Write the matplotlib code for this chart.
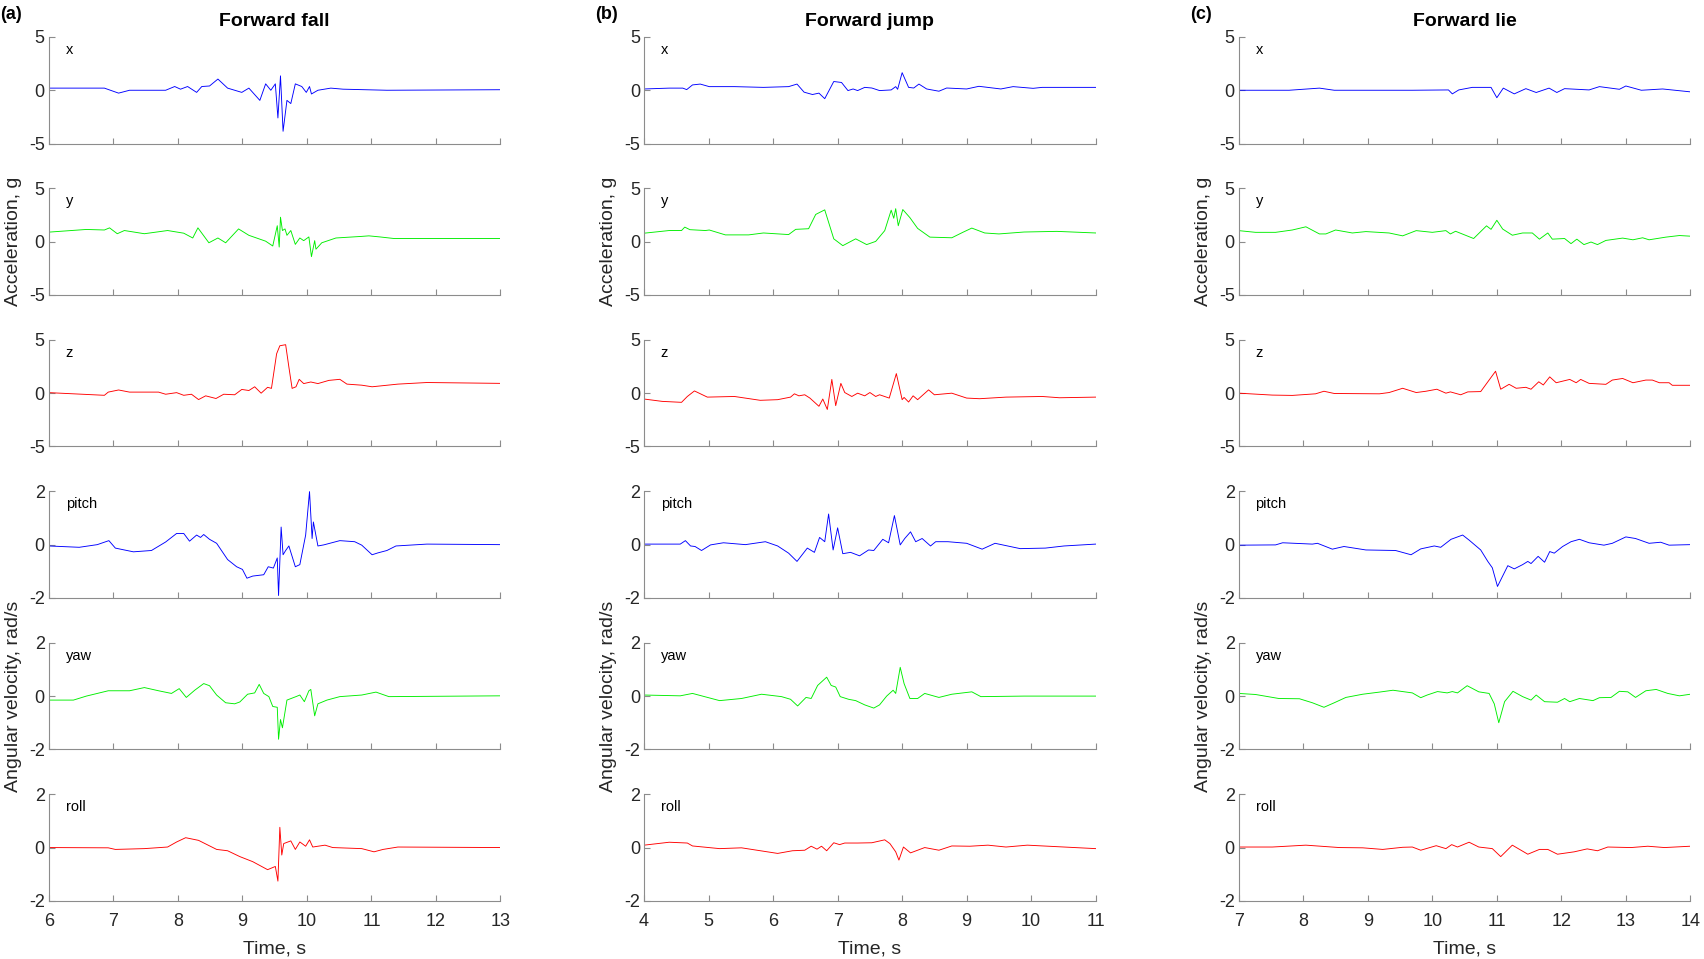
import matplotlib
matplotlib.use("Agg")
import matplotlib.pyplot as plt

plt.rcParams["font.family"] = ["Liberation Sans", "DejaVu Sans"]
plt.rcParams["axes.unicode_minus"] = False

# ---- (a) Forward fall ----
FALL_X_T = [6.0, 6.86, 7.08, 7.25, 7.81, 7.95, 8.04, 8.15, 8.29, 8.37, 8.49, 8.62, 8.77, 8.99, 9.1, 9.27, 9.36, 9.44, 9.51, 9.55, 9.59, 9.63, 9.69, 9.75, 9.82, 9.92, 9.99, 10.04, 10.07, 10.17, 10.37, 10.56, 11.24, 13.0]
FALL_X_V = [0.2, 0.2, -0.27, 0.0, 0.0, 0.35, 0.1, 0.35, -0.2, 0.35, 0.4, 1.05, 0.2, -0.2, 0.2, -0.95, 0.6, 0.0, 0.6, -2.6, 1.35, -3.85, -0.95, -1.25, 0.6, 0.35, -0.2, 0.35, -0.35, 0.0, 0.2, 0.1, 0.0, 0.05]
FALL_Y_T = [6.0, 6.58, 6.86, 6.94, 7.06, 7.17, 7.48, 7.84, 8.09, 8.23, 8.31, 8.48, 8.62, 8.74, 8.94, 9.1, 9.36, 9.47, 9.54, 9.57, 9.59, 9.62, 9.66, 9.69, 9.75, 9.82, 9.89, 9.95, 10.03, 10.07, 10.12, 10.14, 10.23, 10.45, 10.85, 10.96, 11.13, 11.35, 13.0]
FALL_Y_V = [0.9, 1.15, 1.1, 1.3, 0.75, 1.05, 0.75, 1.05, 0.8, 0.35, 1.3, -0.1, 0.35, -0.1, 1.2, 0.6, 0.05, -0.4, 1.5, -0.5, 2.3, 1.05, 1.2, 0.6, 1.05, -0.25, 0.35, 0.1, 0.45, -1.4, 0.1, -0.7, -0.1, 0.35, 0.5, 0.55, 0.45, 0.3, 0.3]
FALL_Z_T = [6.0, 6.86, 6.92, 7.08, 7.25, 7.7, 7.81, 7.98, 8.09, 8.21, 8.32, 8.43, 8.59, 8.71, 8.88, 8.99, 9.1, 9.19, 9.29, 9.39, 9.45, 9.53, 9.58, 9.67, 9.72, 9.77, 9.83, 9.88, 9.95, 10.06, 10.17, 10.34, 10.51, 10.62, 10.85, 11.01, 11.41, 11.86, 13.0]
FALL_Z_V = [0.05, -0.2, 0.1, 0.3, 0.1, 0.1, -0.1, 0.05, -0.2, -0.1, -0.6, -0.25, -0.5, -0.1, -0.15, 0.35, 0.25, 0.6, 0.0, 0.55, 0.45, 3.7, 4.45, 4.55, 2.45, 0.45, 0.6, 1.3, 0.9, 1.05, 0.9, 1.2, 1.3, 0.85, 0.75, 0.6, 0.85, 1.0, 0.92]
FALL_PITCH_T = [6.0, 6.47, 6.75, 6.93, 7.03, 7.31, 7.59, 7.81, 7.98, 8.09, 8.18, 8.29, 8.35, 8.4, 8.49, 8.6, 8.77, 8.91, 9.0, 9.07, 9.16, 9.33, 9.4, 9.48, 9.54, 9.56, 9.6, 9.63, 9.67, 9.72, 9.82, 9.89, 9.98, 10.04, 10.08, 10.1, 10.17, 10.26, 10.51, 10.74, 10.85, 11.01, 11.1, 11.24, 11.38, 11.86, 13.0]
FALL_PITCH_V = [-0.05, -0.1, 0.0, 0.15, -0.13, -0.27, -0.22, 0.1, 0.42, 0.42, 0.13, 0.36, 0.27, 0.38, 0.2, 0.05, -0.56, -0.83, -0.93, -1.26, -1.18, -1.13, -0.83, -0.88, -0.5, -1.91, 0.66, -0.38, -0.22, -0.05, -0.83, -0.75, 0.36, 1.99, 0.23, 0.85, -0.05, -0.01, 0.15, 0.11, -0.02, -0.38, -0.31, -0.22, -0.05, 0.02, 0.0]
FALL_YAW_T = [6.0, 6.38, 6.58, 6.92, 7.25, 7.48, 7.7, 7.9, 8.02, 8.13, 8.26, 8.4, 8.49, 8.6, 8.74, 8.88, 8.96, 9.08, 9.19, 9.26, 9.33, 9.41, 9.47, 9.54, 9.56, 9.59, 9.62, 9.69, 9.83, 9.89, 9.96, 10.03, 10.06, 10.12, 10.17, 10.31, 10.51, 10.85, 11.07, 11.27, 13.0]
FALL_YAW_V = [-0.15, -0.15, 0.0, 0.2, 0.2, 0.32, 0.2, 0.1, 0.28, -0.05, 0.22, 0.47, 0.39, 0.04, -0.25, -0.29, -0.22, 0.07, 0.12, 0.44, 0.1, -0.02, -0.39, -0.42, -1.62, -0.88, -1.19, -0.15, -0.02, 0.04, -0.21, 0.2, 0.25, -0.74, -0.29, -0.15, -0.02, 0.04, 0.15, -0.02, 0.01]
FALL_ROLL_T = [6.0, 6.92, 7.03, 7.48, 7.84, 7.98, 8.12, 8.32, 8.6, 8.77, 8.96, 9.16, 9.39, 9.51, 9.55, 9.58, 9.61, 9.64, 9.75, 9.82, 9.89, 9.98, 10.04, 10.09, 10.28, 10.4, 10.85, 11.04, 11.18, 11.41, 13.0]
FALL_ROLL_V = [0.0, -0.01, -0.07, -0.04, 0.02, 0.21, 0.37, 0.27, -0.07, -0.12, -0.34, -0.53, -0.83, -0.71, -1.26, 0.76, -0.28, 0.15, 0.25, -0.07, 0.21, 0.05, 0.29, 0.02, 0.09, 0.0, -0.04, -0.16, -0.07, 0.02, 0.0]

# ---- (b) Forward jump ----
JUMP_X_T = [4.0, 4.39, 4.6, 4.66, 4.75, 4.87, 5.01, 5.4, 5.85, 6.24, 6.37, 6.48, 6.61, 6.71, 6.8, 6.94, 7.06, 7.16, 7.24, 7.31, 7.42, 7.53, 7.65, 7.83, 7.9, 7.93, 8.0, 8.1, 8.18, 8.26, 8.38, 8.57, 8.69, 9.0, 9.19, 9.53, 9.72, 10.03, 10.17, 11.0]
JUMP_X_V = [0.12, 0.2, 0.2, 0.06, 0.5, 0.58, 0.34, 0.34, 0.27, 0.34, 0.58, -0.18, -0.4, -0.27, -0.79, 0.82, 0.73, -0.03, 0.12, -0.03, 0.27, 0.21, -0.03, 0.03, 0.34, 0.09, 1.65, 0.27, 0.21, 0.58, 0.12, -0.09, 0.21, 0.12, 0.37, 0.12, 0.34, 0.18, 0.27, 0.27]
JUMP_Y_T = [4.0, 4.39, 4.58, 4.63, 4.71, 4.95, 5.01, 5.26, 5.62, 5.85, 6.24, 6.35, 6.55, 6.66, 6.8, 6.94, 7.08, 7.28, 7.45, 7.59, 7.73, 7.83, 7.87, 7.9, 7.94, 8.01, 8.12, 8.24, 8.43, 8.77, 8.94, 9.08, 9.28, 9.5, 9.89, 10.4, 11.0]
JUMP_Y_V = [0.8, 1.05, 1.05, 1.37, 1.13, 1.05, 1.1, 0.64, 0.64, 0.82, 0.67, 1.16, 1.22, 2.56, 2.99, 0.27, -0.37, 0.27, -0.27, 0.03, 1.04, 2.96, 2.2, 3.1, 1.5, 3.02, 2.26, 1.25, 0.43, 0.37, 0.88, 1.28, 0.82, 0.73, 0.91, 0.97, 0.82]
JUMP_Z_T = [4.0, 4.28, 4.58, 4.67, 4.78, 4.98, 5.4, 5.8, 6.07, 6.27, 6.33, 6.4, 6.49, 6.57, 6.71, 6.77, 6.84, 6.91, 6.97, 7.05, 7.11, 7.22, 7.31, 7.42, 7.5, 7.59, 7.65, 7.8, 7.91, 8.0, 8.03, 8.1, 8.17, 8.24, 8.41, 8.5, 8.77, 9.0, 9.2, 9.61, 10.17, 10.44, 11.0]
JUMP_Z_V = [-0.55, -0.77, -0.86, -0.31, 0.21, -0.37, -0.31, -0.67, -0.61, -0.37, -0.06, -0.25, -0.15, -0.46, -1.23, -0.55, -1.53, 1.29, -1.17, 0.92, 0.06, -0.31, 0.0, -0.25, 0.06, -0.31, -0.15, -0.46, 1.84, -0.61, -0.4, -0.83, -0.25, -0.61, 0.31, -0.15, 0.0, -0.46, -0.52, -0.37, -0.31, -0.43, -0.37]
JUMP_PITCH_T = [4.0, 4.56, 4.64, 4.72, 4.79, 4.89, 5.03, 5.23, 5.57, 5.88, 6.07, 6.24, 6.37, 6.53, 6.64, 6.72, 6.8, 6.86, 6.93, 7.0, 7.08, 7.2, 7.34, 7.48, 7.56, 7.7, 7.79, 7.88, 7.97, 8.04, 8.13, 8.21, 8.31, 8.44, 8.52, 8.71, 9.0, 9.24, 9.44, 9.83, 10.22, 10.51, 11.0]
JUMP_PITCH_V = [0.02, 0.02, 0.15, -0.05, -0.07, -0.22, -0.01, 0.07, 0.0, 0.11, -0.05, -0.32, -0.63, -0.13, -0.29, 0.27, 0.11, 1.15, -0.2, 0.63, -0.34, -0.29, -0.42, -0.2, -0.22, 0.2, 0.07, 1.09, -0.01, 0.23, 0.48, 0.11, 0.23, -0.05, 0.11, 0.11, 0.05, -0.17, 0.05, -0.15, -0.13, -0.05, 0.02]
JUMP_YAW_T = [4.0, 4.56, 4.75, 5.17, 5.51, 5.82, 6.13, 6.27, 6.38, 6.51, 6.59, 6.69, 6.83, 6.9, 6.97, 7.04, 7.17, 7.28, 7.42, 7.56, 7.65, 7.76, 7.86, 7.9, 7.97, 8.03, 8.12, 8.24, 8.35, 8.57, 8.77, 9.08, 9.22, 9.89, 11.0]
JUMP_YAW_V = [0.04, 0.01, 0.1, -0.17, -0.09, 0.07, -0.02, -0.12, -0.37, -0.05, -0.09, 0.4, 0.71, 0.4, 0.34, -0.02, -0.12, -0.17, -0.33, -0.45, -0.33, 0.0, 0.22, 0.1, 1.08, 0.47, -0.09, -0.09, 0.1, -0.05, 0.07, 0.16, -0.02, 0.0, 0.0]
JUMP_ROLL_T = [4.0, 4.39, 4.67, 4.75, 5.17, 5.51, 6.07, 6.3, 6.49, 6.59, 6.68, 6.75, 6.83, 6.94, 7.03, 7.11, 7.31, 7.53, 7.73, 7.81, 7.9, 7.95, 8.02, 8.13, 8.35, 8.57, 8.77, 9.05, 9.33, 9.61, 9.94, 11.0]
JUMP_ROLL_V = [0.09, 0.2, 0.17, 0.06, -0.04, -0.01, -0.22, -0.12, -0.1, 0.05, -0.06, 0.05, -0.12, 0.18, 0.11, 0.17, 0.17, 0.18, 0.29, 0.15, -0.16, -0.47, 0.02, -0.2, 0.0, -0.1, 0.06, 0.05, 0.09, 0.02, 0.09, -0.04]

# ---- (c) Forward lie ----
LIE_X_T = [7.0, 7.78, 8.25, 8.48, 9.69, 10.25, 10.31, 10.41, 10.62, 10.91, 11.0, 11.1, 11.27, 11.45, 11.61, 11.81, 11.93, 12.05, 12.43, 12.59, 12.9, 13.0, 13.24, 13.57, 14.0]
LIE_X_V = [0.0, 0.0, 0.2, 0.0, 0.0, 0.03, -0.34, 0.03, 0.27, 0.27, -0.7, 0.2, -0.34, 0.15, -0.21, 0.2, -0.21, 0.15, 0.03, 0.34, 0.09, 0.4, 0.0, 0.12, -0.15]
LIE_Y_T = [7.0, 7.26, 7.57, 7.83, 8.04, 8.25, 8.35, 8.5, 8.76, 8.97, 9.33, 9.54, 9.75, 10.0, 10.21, 10.28, 10.36, 10.64, 10.84, 10.91, 11.0, 11.09, 11.24, 11.4, 11.55, 11.66, 11.79, 11.86, 12.05, 12.15, 12.24, 12.35, 12.46, 12.56, 12.69, 12.95, 13.11, 13.26, 13.36, 13.62, 13.83, 14.0]
LIE_Y_V = [1.04, 0.88, 0.88, 1.1, 1.4, 0.73, 0.73, 1.1, 0.82, 0.95, 0.82, 0.55, 1.04, 0.88, 1.04, 0.73, 0.98, 0.3, 1.49, 1.16, 2.01, 1.19, 0.61, 0.82, 0.82, 0.24, 0.82, 0.24, 0.3, -0.18, 0.24, -0.27, -0.03, -0.27, 0.12, 0.34, 0.18, 0.37, 0.18, 0.43, 0.58, 0.52]
LIE_Z_T = [7.0, 7.52, 7.83, 8.19, 8.32, 8.48, 9.18, 9.33, 9.54, 9.75, 9.9, 10.07, 10.21, 10.28, 10.44, 10.55, 10.75, 10.98, 11.06, 11.19, 11.3, 11.45, 11.53, 11.65, 11.72, 11.82, 11.92, 12.13, 12.23, 12.3, 12.43, 12.69, 12.79, 12.95, 13.11, 13.31, 13.41, 13.52, 13.67, 13.72, 14.0]
LIE_Z_V = [0.0, -0.18, -0.21, -0.06, 0.18, -0.03, -0.06, 0.06, 0.46, 0.06, 0.18, 0.37, 0.0, 0.12, -0.15, 0.12, 0.15, 2.06, 0.37, 0.83, 0.46, 0.55, 0.37, 1.07, 0.77, 1.53, 0.98, 1.29, 0.98, 1.29, 0.92, 0.83, 1.23, 1.38, 0.98, 1.23, 1.23, 0.98, 0.98, 0.74, 0.74]
LIE_PITCH_T = [7.0, 7.57, 7.68, 8.14, 8.22, 8.45, 8.63, 8.97, 9.43, 9.67, 9.82, 10.03, 10.13, 10.29, 10.47, 10.57, 10.75, 10.86, 10.93, 11.01, 11.17, 11.27, 11.4, 11.48, 11.53, 11.64, 11.74, 11.82, 11.89, 12.02, 12.15, 12.28, 12.43, 12.66, 12.79, 13.0, 13.15, 13.36, 13.54, 13.67, 14.0]
LIE_PITCH_V = [-0.02, -0.01, 0.07, 0.02, 0.05, -0.17, -0.07, -0.2, -0.22, -0.38, -0.16, -0.05, -0.1, 0.2, 0.36, 0.17, -0.2, -0.63, -0.87, -1.57, -0.79, -0.91, -0.75, -0.63, -0.71, -0.44, -0.66, -0.26, -0.32, -0.07, 0.11, 0.2, 0.07, -0.02, 0.05, 0.29, 0.23, 0.05, 0.09, -0.02, 0.0]
LIE_YAW_T = [7.0, 7.26, 7.62, 7.94, 8.14, 8.32, 8.48, 8.66, 8.92, 9.18, 9.39, 9.69, 9.82, 9.92, 10.08, 10.23, 10.31, 10.39, 10.54, 10.72, 10.88, 10.96, 11.03, 11.12, 11.25, 11.4, 11.53, 11.61, 11.74, 11.94, 12.05, 12.13, 12.28, 12.49, 12.59, 12.77, 12.9, 13.03, 13.15, 13.31, 13.47, 13.65, 13.83, 14.0]
LIE_YAW_V = [0.1, 0.06, -0.09, -0.1, -0.25, -0.42, -0.25, -0.05, 0.07, 0.15, 0.22, 0.12, -0.06, 0.04, 0.17, 0.12, 0.17, 0.12, 0.39, 0.16, 0.1, -0.29, -1.0, -0.21, 0.18, -0.02, -0.15, 0.04, -0.21, -0.23, -0.09, -0.21, -0.09, -0.17, -0.06, -0.05, 0.18, 0.16, -0.05, 0.2, 0.25, 0.1, 0.01, 0.07]
LIE_ROLL_T = [7.0, 7.52, 8.04, 8.56, 8.92, 9.23, 9.54, 9.69, 9.82, 10.06, 10.21, 10.3, 10.39, 10.57, 10.72, 10.93, 11.06, 11.24, 11.48, 11.66, 11.79, 11.94, 12.2, 12.4, 12.56, 12.72, 13.08, 13.34, 13.6, 14.0]
LIE_ROLL_V = [0.02, 0.02, 0.09, 0.0, -0.01, -0.07, 0.01, 0.02, -0.1, 0.07, -0.04, 0.11, 0.02, 0.2, 0.02, -0.04, -0.34, 0.09, -0.25, -0.07, -0.07, -0.25, -0.16, -0.05, -0.12, 0.02, 0.0, 0.05, 0.0, 0.05]

TITLES = ["Forward fall", "Forward jump", "Forward lie"]
PANELS = ["(a)", "(b)", "(c)"]
XLIMS = [(6, 13), (4, 11), (7, 14)]
TRACE_NAMES = ["x", "y", "z", "pitch", "yaw", "roll"]
COLORS = ["#0000ff", "#00ee00", "#ff0000"]

COLUMNS = [
    [(FALL_X_T, FALL_X_V), (FALL_Y_T, FALL_Y_V), (FALL_Z_T, FALL_Z_V),
     (FALL_PITCH_T, FALL_PITCH_V), (FALL_YAW_T, FALL_YAW_V), (FALL_ROLL_T, FALL_ROLL_V)],
    [(JUMP_X_T, JUMP_X_V), (JUMP_Y_T, JUMP_Y_V), (JUMP_Z_T, JUMP_Z_V),
     (JUMP_PITCH_T, JUMP_PITCH_V), (JUMP_YAW_T, JUMP_YAW_V), (JUMP_ROLL_T, JUMP_ROLL_V)],
    [(LIE_X_T, LIE_X_V), (LIE_Y_T, LIE_Y_V), (LIE_Z_T, LIE_Z_V),
     (LIE_PITCH_T, LIE_PITCH_V), (LIE_YAW_T, LIE_YAW_V), (LIE_ROLL_T, LIE_ROLL_V)],
]

SPINE = "#8c8c8c"
TEXT = "#262626"

fig = plt.figure(figsize=(17.04, 9.59), dpi=100)

col_left = [0.0287, 0.378, 0.727]
col_w = 0.265
row_h = 0.1111
row_step = 139.3 / 882


def style_axes(ax, ylim, yticks, bottom):
    ax.set_ylim(*ylim)
    ax.set_yticks(yticks)
    for side in ("top", "right"):
        ax.spines[side].set_visible(False)
    for side in ("left", "bottom"):
        ax.spines[side].set_color(SPINE)
        ax.spines[side].set_linewidth(0.8)
    ax.tick_params(direction="in", length=4, width=0.8, color=SPINE,
                   labelsize=13, labelcolor=TEXT)
    ax.tick_params(axis="y", pad=3)
    ax.tick_params(axis="x", pad=9)
    if not bottom:
        ax.tick_params(labelbottom=False)


for c in range(3):
    t0, t1 = XLIMS[c]
    for r in range(6):
        bottom = 1 - (132 + row_step * 882 * r) / 882
        ax = fig.add_axes([col_left[c], bottom, col_w, row_h])
        t, v = COLUMNS[c][r]
        ax.plot(t, v, color=COLORS[r % 3], lw=0.65)
        ax.set_xlim(t0, t1)
        ax.set_xticks(range(t0, t1 + 1))
        if r < 3:
            style_axes(ax, (-5, 5), [-5, 0, 5], r == 5)
        else:
            style_axes(ax, (-2, 2), [-2, 0, 2], r == 5)
        ax.text(0.037, 0.88, TRACE_NAMES[r], transform=ax.transAxes,
                fontsize=10.5, color="black", va="center", ha="left")
        if r == 0:
            ax.set_title(TITLES[c], fontsize=14, fontweight="bold", pad=8)
        if r == 5:
            ax.set_xlabel("Time, s", fontsize=14, color=TEXT, labelpad=7)

    fig.text(col_left[c] - 0.0285, 0.985, PANELS[c], fontsize=13,
             fontweight="bold", ha="left", va="center")
    fig.text(col_left[c] - 0.021, 0.748, "Acceleration, g", rotation=90,
             fontsize=14, color=TEXT, ha="center", va="center")
    fig.text(col_left[c] - 0.021, 0.274, "Angular velocity, rad/s", rotation=90,
             fontsize=14, color=TEXT, ha="center", va="center")

fig.savefig("out.png", dpi=100)
